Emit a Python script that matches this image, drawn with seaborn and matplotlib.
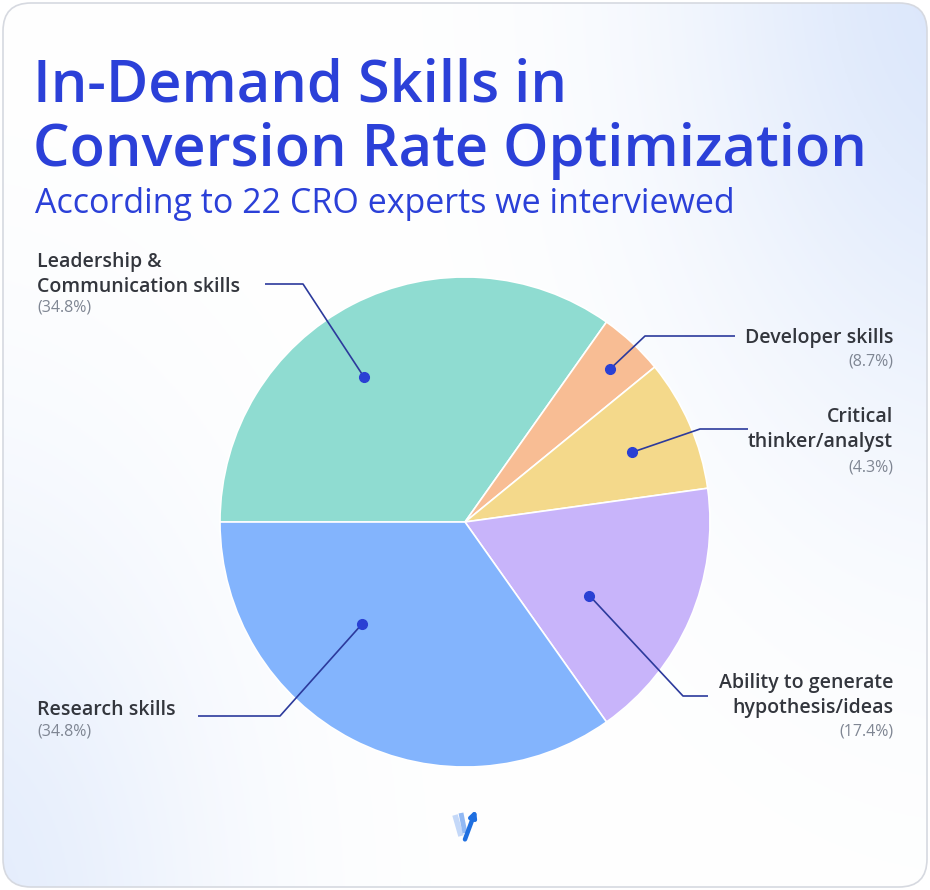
import numpy as np
import matplotlib.pyplot as plt
import seaborn as sns
from matplotlib.patches import FancyBboxPatch

W, H = 930, 890

# data
skills = ["Leadership &\nCommunication skills", "Developer skills",
          "Critical\nthinker/analyst", "Ability to generate\nhypothesis/ideas",
          "Research skills"]
shares = [34.8, 4.3, 8.7, 17.4, 34.8]
share_labels = ["(34.8%)", "(8.7%)", "(4.3%)", "(17.4%)", "(34.8%)"]
slice_colors = ["#8fdcd1", "#f8bd94", "#f4d98b", "#c8b4fa", "#83b4fd"]

# layout (pixels, y measured from the top)
dot_frac = [0.56, 0.47, 0.47, 0.385, 0.357]      # position of the dot across the wedge
dot_rad = [0.72, 0.86, 0.74, 0.59, 0.59]
elbows = [(303, 284), (645, 336), (700, 429), (683, 696), (280, 716)]
line_ends = [(265, 284), (735, 336), (748, 429), (708, 696), (198, 716)]
label_x = [37, 893, 893, 893, 37]
label_ha = ["left", "right", "right", "right", "left"]
label_base = [267, 343, 422, 688, 715]
pct_base = [312, 366, 471, 736, 736]

TITLE_BLUE = "#2b40d8"
LINE_BLUE = "#2c3a9c"
DOT_BLUE = "#2a40d4"

sns.set_theme(style="white")
plt.rcParams["font.family"] = ["Open Sans", "DejaVu Sans"]


def up(y):
    return H - y


fig = plt.figure(figsize=(W / 100, H / 100), dpi=100, facecolor="white")
ax = fig.add_axes([0, 0, 1, 1])

# card with soft blue gradient corners
card = FancyBboxPatch((3, 3), W - 6, H - 6, boxstyle="round,pad=0,rounding_size=28",
                      fc="none", ec="#d6d9e0", lw=1.2, zorder=1)
ax.add_patch(card)
gx, gy = np.meshgrid(np.linspace(0, 1, 300), np.linspace(0, 1, 300))
tr = np.exp(-(((gx - 1.05) ** 2) / 0.10 + ((gy - 1.05) ** 2) / 0.30))
bl = np.exp(-(((gx + 0.05) ** 2) / 0.08 + ((gy + 0.05) ** 2) / 0.25))
t = np.clip(np.maximum(tr, bl * 0.75), 0, 1)
white = np.array([1.0, 1.0, 1.0])
tint = np.array([0.86, 0.905, 0.985])
img = white + (tint - white) * t[..., None]
im = ax.imshow(img, extent=(3, W - 3, 3, H - 3), origin="lower", zorder=0, aspect="auto")
im.set_clip_path(card)

# pie
cx, cy, R = 465, up(522), 245
wedges, _ = ax.pie(shares, colors=slice_colors, startangle=180, counterclock=False,
                   center=(cx, cy), radius=R,
                   wedgeprops=dict(edgecolor="white", linewidth=1.2, zorder=2))
ax.set_xlim(0, W)
ax.set_ylim(0, H)
ax.set_aspect("equal")
ax.axis("off")

# connectors and labels
for i, w in enumerate(wedges):
    t1, t2 = sorted([w.theta1, w.theta2])
    ang = np.deg2rad(t1 + dot_frac[i] * (t2 - t1))
    dx = cx + dot_rad[i] * R * np.cos(ang)
    dy = cy + dot_rad[i] * R * np.sin(ang)
    ex, ey = elbows[i]
    lx, ly = line_ends[i]
    ax.plot([dx, ex, lx], [dy, up(ey), up(ly)], color=LINE_BLUE, lw=1.2,
            solid_capstyle="butt", zorder=4)
    ax.plot(dx, dy, "o", ms=7, color=DOT_BLUE, zorder=5)
    for j, line in enumerate(skills[i].split("\n")):
        ax.text(label_x[i], up(label_base[i] + j * 25), line, ha=label_ha[i],
                va="baseline", fontsize=14, fontweight="semibold", color="#33363d")
    ax.text(label_x[i], up(pct_base[i]), share_labels[i], ha=label_ha[i],
            va="baseline", fontsize=11.5, color="#7f8693")

# titles
ax.text(33, up(102), "In-Demand Skills in", fontsize=41.6, fontweight="semibold",
        color=TITLE_BLUE, va="baseline")
ax.text(33, up(166), "Conversion Rate Optimization", fontsize=41.6, fontweight="semibold",
        color=TITLE_BLUE, va="baseline")
ax.text(35, up(213), "According to 22 CRO experts we interviewed", fontsize=24.5,
        color=TITLE_BLUE, va="baseline")

# small logo mark
ax.plot([455, 461], [up(815), up(836)], lw=4, color="#c4d8f8", solid_capstyle="butt")
ax.plot([461, 465], [up(813), up(833)], lw=3.5, color="#92b9f4", solid_capstyle="butt")
ax.annotate("", xy=(477, up(807)), xytext=(464, up(842)),
            arrowprops=dict(arrowstyle="-|>", color="#1f6fe0", lw=3.2, mutation_scale=9))

fig.savefig("out.png", dpi=100, facecolor="white")
